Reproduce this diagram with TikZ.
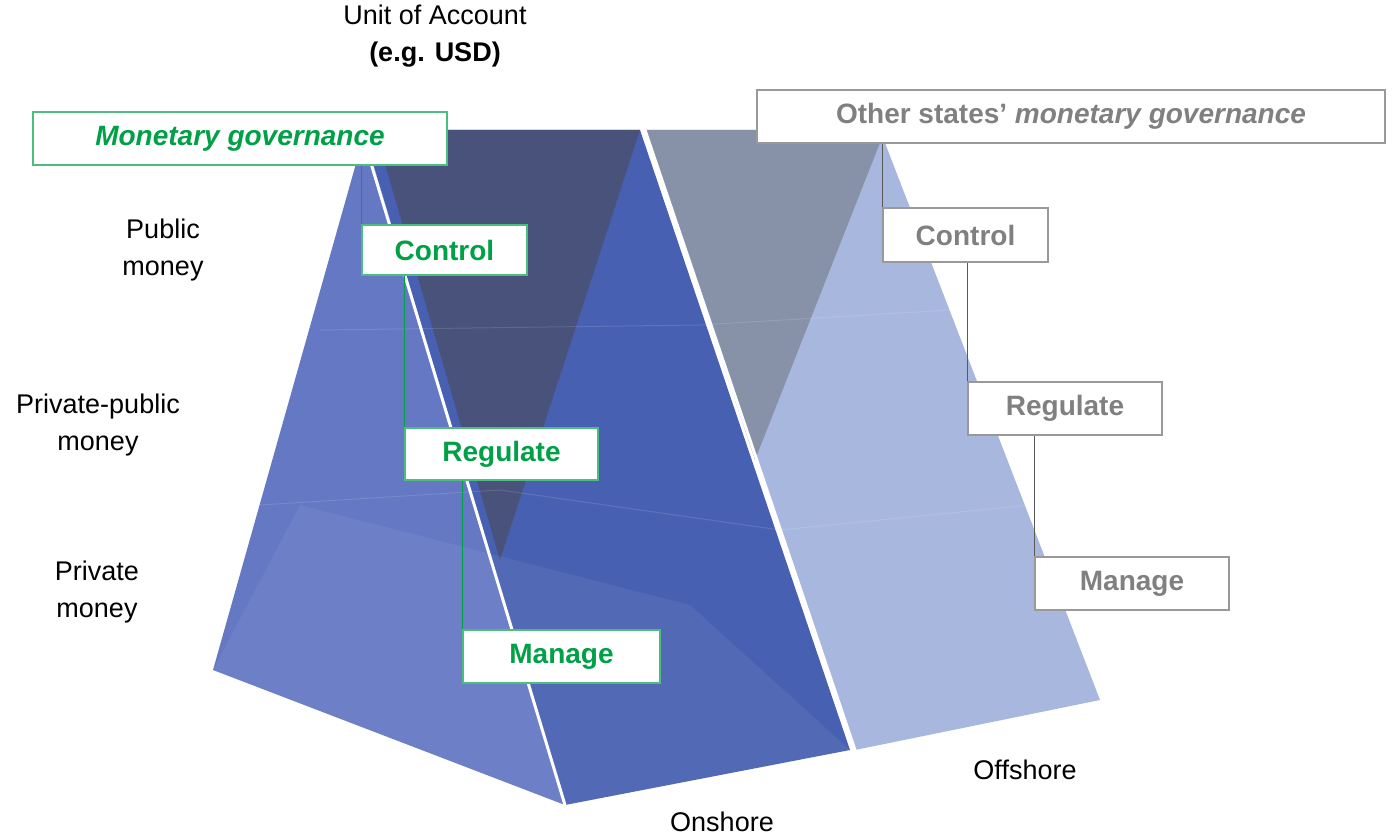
\documentclass[tikz,border=0pt]{standalone}
\usepackage{fontspec}
\setmainfont{Liberation Sans}
\definecolor{lface}{RGB}{100,120,195}
\definecolor{rface}{RGB}{72,96,178}
\definecolor{dtri}{RGB}{72,82,122}
\definecolor{gtri}{RGB}{135,145,168}
\definecolor{offf}{RGB}{168,183,222}
\definecolor{gtext}{RGB}{0,160,70}
\begin{document}
\begin{tikzpicture}[x=1pt,y=-1pt,
  gbox/.style={draw=gtext!70,line width=1.2pt,fill=white,text=gtext,font=\fontsize{28}{32}\selectfont\bfseries,inner sep=0pt},
  sbox/.style={draw=gray!80,line width=1.2pt,fill=white,text=gray,font=\fontsize{28}{32}\selectfont\bfseries,inner sep=0pt},
  lab/.style={font=\fontsize{27}{37}\selectfont,align=center,inner sep=0pt},
  gline/.style={gtext,line width=1.2pt},
  sline/.style={gray!70!black,line width=1.2pt}]
\useasboundingbox (0,0) rectangle (1392,837);
% offshore prism
\fill[offf] (645,130) -- (880,130) -- (1100,700) -- (855,750) -- cycle;
\fill[gtri] (645,130) -- (885,130) -- (755,460) -- cycle;
% onshore prism
\fill[lface] (357,160) -- (372,160) -- (565,805) -- (213,670) -- cycle;
\fill[rface] (372,160) -- (375,130) -- (640,130) -- (850,750) -- (565,805) -- cycle;
\fill[dtri] (375,130) -- (640,130) -- (500,560) -- cycle;
% faint bands
\fill[white,opacity=0.06] (213,670) -- (565,805) -- (850,750) -- (690,605) -- (300,505) -- cycle;
\draw[white,opacity=0.12,line width=1pt] (320,330) -- (700,325) -- (950,310);
\draw[white,opacity=0.12,line width=1pt] (260,505) -- (500,490) -- (780,530) -- (1030,505);
% white edges
\draw[white,line width=3pt] (370,160) -- (565,805);
\draw[white,line width=3pt] (645,130) -- (855,750);
% labels
\node[lab] (ua) at (435,15) {Unit of Account};
\node[lab,font=\fontsize{27}{37}\selectfont\bfseries] (usd) at (435,55) {(e.g. USD)};
\node[lab] (pub) at (163,250) {Public\\money};
\node[lab] (pp) at (98,425) {Private-public\\money};
\node[lab] (pm) at (97,592) {Private\\money};
\node[lab] (on) at (722,822) {Onshore};
\node[lab] (off) at (1025,770) {Offshore};
% green boxes
\node[gbox,minimum width=414,minimum height=53] (mg) at (240,138.5) {\itshape Monetary governance};
\node[gbox,minimum width=165,minimum height=50] (c1) at (444.5,250) {Control};
\node[gbox,minimum width=193,minimum height=52] (r1) at (501.5,454) {Regulate};
\node[gbox,minimum width=197,minimum height=53] (m1) at (561.5,656.5) {Manage};
\draw[gline] (c1.north west) -- (c1.north west |- mg.south);
\draw[gline] (r1.north west) -- (r1.north west |- c1.south);
\draw[gline] (m1.north west) -- (m1.north west |- r1.south);
% gray boxes
\node[sbox,minimum width=628,minimum height=53] (os) at (1071,116.5) {Other states’ \textit{monetary governance}};
\node[sbox,minimum width=165,minimum height=54] (c2) at (965.5,235) {Control};
\node[sbox,minimum width=194,minimum height=53] (r2) at (1065,408.5) {Regulate};
\node[sbox,minimum width=194,minimum height=53] (m2) at (1132,583.5) {Manage};
\draw[sline] (c2.north west) -- (c2.north west |- os.south);
\draw[sline] (r2.north west) -- (r2.north west |- c2.south);
\draw[sline] (m2.north west) -- (m2.north west |- r2.south);
\end{tikzpicture}
\end{document}
